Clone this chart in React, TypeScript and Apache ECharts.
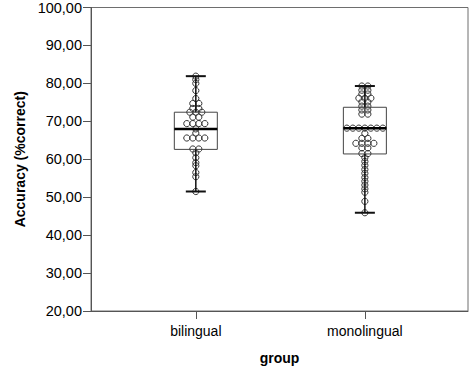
import React, { useEffect, useRef } from "react";
import * as echarts from "echarts";

const categories = ["bilingual", "monolingual"];
// [min, Q1, median, Q3, max]
const boxStats = [
  [51.5, 62.6, 68.0, 72.4, 81.9],
  [45.9, 61.4, 68.2, 73.7, 79.3],
];
const bilingualValues = [
  81.9, 81.0, 80.0, 78.1, 76.0, 74.7, 74.7, 73.4, 73.4, 72.4, 72.4, 72.4,
  71.1, 71.1, 69.4, 69.4, 69.4, 69.4, 68.0, 66.9, 65.6, 65.6, 65.6, 65.6,
  62.7, 62.7, 61.7, 60.4, 59.1, 58.3, 56.5, 55.4, 51.5,
];
const monolingualValues = [
  79.3, 79.3, 78.2, 78.2, 77.2, 77.2, 76.1, 76.1, 76.1, 75.1, 75.1, 74.0,
  74.0, 73.0, 73.0, 71.9, 71.9, 68.2, 68.2, 68.2, 68.2, 68.2, 68.2, 68.2,
  66.8, 65.5, 65.5, 64.2, 64.2, 64.2, 64.2, 63.0, 63.0, 61.5, 61.5, 60.4,
  59.4, 58.4, 57.3, 56.3, 55.2, 54.2, 53.2, 52.2, 51.3, 48.9, 45.9,
];
const yTicks = { min: 20, max: 100, interval: 10 };

const catPos = [0.62, 1.62];
const xMax = 2.23;
const FONT = "Liberation Sans, Arial, sans-serif";

function buildDots(values: number[], ci: number) {
  const counts: Record<string, number> = {};
  values.forEach((v) => (counts[v.toFixed(1)] = (counts[v.toFixed(1)] || 0) + 1));
  const seen: Record<string, number> = {};
  return values.map((v) => {
    const k = v.toFixed(1);
    const i = seen[k] || 0;
    seen[k] = i + 1;
    return [catPos[ci], v, i, counts[k]];
  });
}

export default function App() {
  const ref = useRef<HTMLDivElement>(null);
  useEffect(() => {
    if (!ref.current) return;
    const chart = echarts.init(ref.current, null, { renderer: "svg" });
    const dots = [...buildDots(bilingualValues, 0), ...buildDots(monolingualValues, 1)];
    const boxData = boxStats.map((s, i) => [catPos[i], ...s]);
    chart.setOption({
      animation: false,
      backgroundColor: "#fff",
      grid: {
        left: 91,
        right: 6,
        top: 4,
        bottom: 68,
        show: true,
        borderColor: "#6e6e6e",
        borderWidth: 1,
        backgroundColor: "transparent",
      },
      xAxis: {
        type: "value",
        min: 0,
        max: xMax,
        splitLine: { show: false },
        axisLine: { show: true, lineStyle: { color: "#555", width: 1 } },
        axisTick: {
          show: true,
          length: 8,
          customValues: catPos,
          lineStyle: { color: "#555" },
        },
        axisLabel: {
          customValues: catPos,
          margin: 13,
          color: "#000",
          fontFamily: FONT,
          fontSize: 14,
          formatter: (v: number) => {
            let best = 0;
            catPos.forEach((p, i) => {
              if (Math.abs(p - v) < Math.abs(catPos[best] - v)) best = i;
            });
            return categories[best];
          },
        },
        name: "group",
        nameLocation: "middle",
        nameGap: 40,
        nameTextStyle: { color: "#000", fontFamily: FONT, fontSize: 14, fontWeight: "bold" },
      },
      yAxis: {
        type: "value",
        min: yTicks.min,
        max: yTicks.max,
        interval: yTicks.interval,
        splitLine: { show: false },
        axisLine: { show: true, lineStyle: { color: "#555", width: 1 } },
        axisTick: { show: true, length: 8, lineStyle: { color: "#555" } },
        axisLabel: {
          margin: 9,
          color: "#000",
          fontFamily: FONT,
          fontSize: 14.5,
          formatter: (v: number) => v.toFixed(2).replace(".", ","),
        },
        name: "Accuracy (%correct)",
        nameLocation: "middle",
        nameGap: 64,
        nameTextStyle: { color: "#000", fontFamily: FONT, fontSize: 14, fontWeight: "bold" },
      },
      series: [
        {
          type: "custom",
          z: 2,
          data: dots,
          renderItem: (params: any, api: any) => {
            const p = api.coord([api.value(0), api.value(1)]);
            const i = api.value(2);
            const n = api.value(3);
            const cx = p[0] + (i - (n - 1) / 2) * 6;
            return {
              type: "circle",
              shape: { cx, cy: p[1], r: 3.1 },
              style: { fill: "none", stroke: "#333", lineWidth: 1 },
            };
          },
        },
        {
          type: "custom",
          z: 3,
          data: boxData,
          renderItem: (params: any, api: any) => {
            const pos = api.value(0);
            const x = api.coord([pos, 50])[0];
            const y = (k: number) => api.coord([pos, api.value(k)])[1];
            const yMin = y(1), yQ1 = y(2), yMed = y(3), yQ3 = y(4), yMax = y(5);
            const hw = 21.5;
            const cw = 10;
            return {
              type: "group",
              children: [
                {
                  type: "rect",
                  shape: { x: x - hw, y: yQ3, width: hw * 2, height: yQ1 - yQ3 },
                  style: { fill: "none", stroke: "#444", lineWidth: 1 },
                },
                { type: "line", shape: { x1: x, y1: yMax, x2: x, y2: yQ3 }, style: { stroke: "#111", lineWidth: 1.5 } },
                { type: "line", shape: { x1: x, y1: yQ1, x2: x, y2: yMin }, style: { stroke: "#111", lineWidth: 1.5 } },
                { type: "line", shape: { x1: x - cw, y1: yMax, x2: x + cw, y2: yMax }, style: { stroke: "#111", lineWidth: 2 } },
                { type: "line", shape: { x1: x - cw, y1: yMin, x2: x + cw, y2: yMin }, style: { stroke: "#111", lineWidth: 2 } },
                { type: "line", shape: { x1: x - hw, y1: yMed, x2: x + hw, y2: yMed }, style: { stroke: "#000", lineWidth: 2.5 } },
              ],
            };
          },
        },
      ],
    });
    return () => chart.dispose();
  }, []);
  return (
    <div
      ref={ref}
      style={{ position: "absolute", left: 0, top: 0, width: 474, height: 379 }}
    />
  );
}
